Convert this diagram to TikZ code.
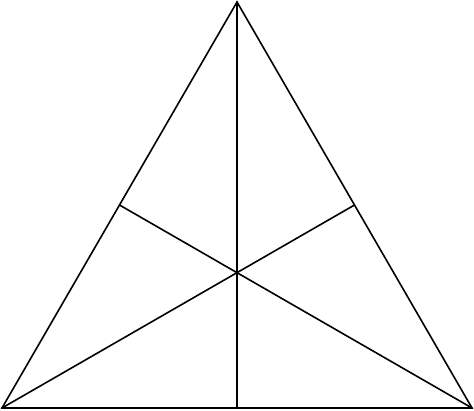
\documentclass[tikz,border=0pt]{standalone}
\usetikzlibrary{calc}
\begin{document}
\begin{tikzpicture}[x=1pt,y=-1pt,edge/.style={draw=black,line width=1.6pt,line cap=round,line join=miter}]
\useasboundingbox (0,0) rectangle (474,410);
\coordinate (A) at (237,2);
\coordinate (B) at (2,408);
\coordinate (C) at (472,408);
\coordinate (Mab) at ($(A)!0.5!(B)$);
\coordinate (Mac) at ($(A)!0.5!(C)$);
\coordinate (Mbc) at ($(B)!0.5!(C)$);
\draw[edge] (A) -- (B) -- (C) -- cycle;
\draw[edge] (A) -- (Mbc);
\draw[edge] (B) -- (Mac);
\draw[edge] (C) -- (Mab);
\end{tikzpicture}
\end{document}
